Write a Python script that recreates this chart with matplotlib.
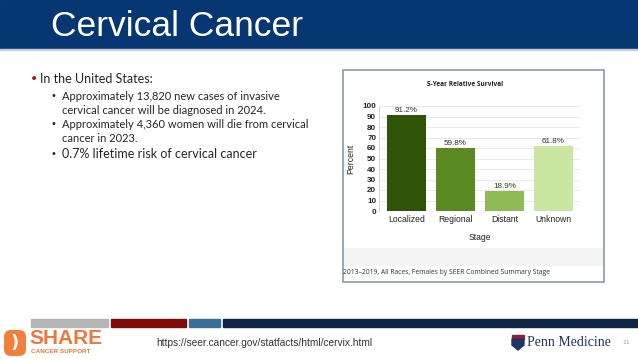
import matplotlib
matplotlib.use('Agg')
import matplotlib.pyplot as plt
from matplotlib.patches import Rectangle, FancyBboxPatch, Polygon
import numpy as np

# slide texts
title = 'Cervical Cancer'
bullet_main = 'In the United States:'
sub_bullets = [
    ['Approximately 13,820 new cases of invasive', 'cervical cancer will be diagnosed in 2024.'],
    ['Approximately 4,360 women will die from cervical', 'cancer in 2023.'],
    ['0.7% lifetime risk of cervical cancer'],
]
source_url = 'https://seer.cancer.gov/statfacts/html/cervix.html'
footnote = '2013\u20132019, All Races, Females by SEER Combined Summary Stage'
page_no = '11'

# chart data
stages = ['Localized', 'Regional', 'Distant', 'Unknown']
survival = [91.2, 59.8, 18.9, 61.8]
bar_colors = ['#2f5407', '#5b8a22', '#8fbb55', '#cbe6a3']
yticks = [0, 10, 20, 30, 40, 50, 60, 70, 80, 90, 100]

W, H = 638, 359
fig = plt.figure(figsize=(W / 100, H / 100), dpi=100)
fig.patch.set_facecolor('white')

# background axes in pixel coordinates
bg = fig.add_axes([0, 0, 1, 1])
bg.set_xlim(0, W)
bg.set_ylim(H, 0)
bg.axis('off')

# header band
bg.add_patch(Rectangle((0, 0), W, 49, color='#073772', zorder=1))
bg.add_patch(Rectangle((0, 49), W, 1.2, color='#c8ced8', zorder=1))
bg.text(51, 27, title, color='white', fontsize=25.5, family='Liberation Sans',
        va='center', ha='left', zorder=2)

# bullets
bg.text(30, 79, '\u2022', color='#a01c1c', fontsize=10, va='center', ha='left')
bg.text(40, 79, bullet_main, color='#262626', fontsize=9, family='Lato',
        va='center', ha='left')
ys = [[96, 110], [124, 139], [154]]
for lines, yy in zip(sub_bullets, ys):
    bg.text(51, yy[0], '\u2022', color='#262626', fontsize=7, va='center', ha='left')
    for ln, y in zip(lines, yy):
        fs = 9.0 if len(lines) == 1 else 8.0
        bg.text(62, y, ln, color='#262626', fontsize=fs, family='Lato',
                va='center', ha='left')

# chart box
bg.add_patch(Rectangle((343, 70), 261, 212, facecolor='white',
                       edgecolor='#8a9aae', lw=1.2, zorder=1))
bg.add_patch(Rectangle((344, 248), 259, 18, facecolor='#f3f4f4',
                       edgecolor='none', zorder=1.5))
bg.text(465, 85, '5-Year Relative Survival', fontsize=4.7, fontweight='bold',
        family='Open Sans', color='#222222', ha='center', va='center', zorder=3)
bg.text(343, 272, footnote, fontsize=4.9, family='Open Sans', color='#333333',
        ha='left', va='center', zorder=3)

# footer bars
bg.add_patch(Rectangle((31, 319), 77, 7.5, color='#b5b5b5'))
bg.add_patch(Rectangle((111, 319), 75, 7.5, color='#7f0a0a'))
bg.add_patch(Rectangle((189, 319), 31, 7.5, color='#3b6e96'))
bg.add_patch(Rectangle((223, 319), W - 223, 7.5, color='#0d2444'))

# SHARE logo
bg.add_patch(FancyBboxPatch((4, 330), 22, 26, boxstyle='round,pad=0,rounding_size=7',
                            facecolor='#f0803c', edgecolor='none'))
bg.text(15, 343, ')', color='white', fontsize=13, fontweight='bold',
        ha='center', va='center')
bg.text(29, 339, 'SHARE', color='#ef7838', fontsize=15, fontweight='bold',
        family='Liberation Sans', ha='left', va='center')
bg.text(31, 351.5, 'CANCER SUPPORT', color='#ef7838', fontsize=4.6, fontweight='bold',
        family='Liberation Sans', ha='left', va='center')

bg.text(156, 343, source_url, color='#333333', fontsize=7.3, family='Liberation Sans',
        ha='left', va='center')

# Penn Medicine logo
bg.add_patch(Rectangle((512, 335), 12, 4, color='#9b1c2c'))
bg.add_patch(Polygon([(512, 339), (524, 339), (524, 345), (518, 350), (512, 345)],
                     closed=True, color='#1f3564'))
bg.text(527, 342, 'Penn Medicine', color='#1f3564', fontsize=10,
        family='Liberation Serif', ha='left', va='center')
bg.text(626, 342, page_no, color='#999999', fontsize=4.5, ha='center', va='center')

# bar chart axes
x0, x1, y0, y1 = 379, 580, 106, 211
ax = fig.add_axes([x0 / W, (H - y1) / H, (x1 - x0) / W, (y1 - y0) / H])
ax.set_facecolor('none')
pos = np.arange(len(stages))
bars = ax.bar(pos, survival, width=0.8, color=bar_colors, zorder=3)
for b, v in zip(bars, survival):
    ax.text(b.get_x() + b.get_width() / 2, v + 1.5, f'{v}%', ha='center', va='bottom',
            fontsize=5.8, color='#333333', family='Liberation Sans')
ax.set_xlim(-0.56, 3.54)
ax.set_ylim(0, 100)
ax.set_yticks(yticks)
ax.set_yticklabels([str(t) for t in yticks], fontsize=5.8, fontweight='bold',
                   family='Liberation Sans', color='#222222')
ax.set_xticks(pos)
ax.set_xticklabels(stages, fontsize=6.2, family='Liberation Sans', color='#222222')
ax.tick_params(axis='both', length=0, pad=2)
ax.tick_params(axis='x', pad=3)
ax.grid(axis='y', color='#e6e6e6', lw=0.6, zorder=0)
for s in ['top', 'right', 'bottom']:
    ax.spines[s].set_visible(False)
ax.spines['left'].set_color('#d0d0d0')
ax.spines['left'].set_linewidth(0.6)
ax.set_ylabel('Percent', fontsize=6.2, family='Liberation Sans', color='#222222',
              labelpad=5)
ax.set_xlabel('Stage', fontsize=6.2, family='Liberation Sans', color='#222222',
              labelpad=6)

fig.savefig('out.png', dpi=100)
